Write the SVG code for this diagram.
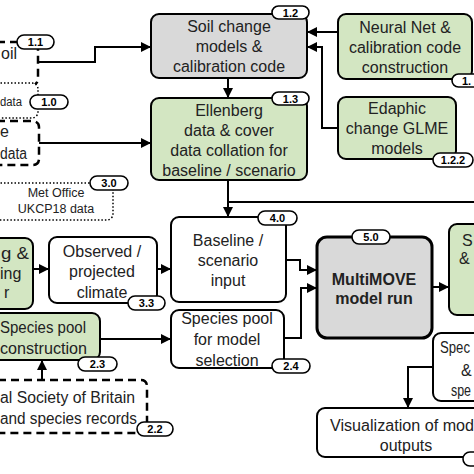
<svg xmlns="http://www.w3.org/2000/svg" width="474" height="474" viewBox="0 0 474 474">
<defs>
<style>
.box{stroke:#000;stroke-width:2}
.g{fill:#d3e6c2}
.gr{fill:#d9d9d9}
.w{fill:#fff}
.dash{fill:#fff;stroke:#000;stroke-width:2.5;stroke-dasharray:8 5}
.dot{fill:#fff;stroke:#000;stroke-width:1.5;stroke-dasharray:1.5 2}
text{font-family:"Liberation Sans",Arial,sans-serif;font-size:16px;fill:#222}
.c{text-anchor:middle}
.e{text-anchor:end}
.sm{font-size:12.5px}
.b{font-weight:bold}
.bd rect{fill:#fff;stroke:#000;stroke-width:1.6}
.bd text{font-size:11px;font-weight:bold;text-anchor:middle;fill:#000}
.cn path{fill:none;stroke:#000;stroke-width:2}
</style>
<marker id="ar" viewBox="0 0 10 10" refX="9" refY="5" markerWidth="5" markerHeight="5" orient="auto" markerUnits="strokeWidth"><path d="M0 0L10 5L0 10z" fill="#000"/></marker>
</defs>
<rect width="474" height="474" fill="#fff"/>

<g id="n1_1">
<rect class="dash" x="-100" y="42" width="138" height="43" rx="6"/>
<text x="1" y="59">oil</text>
</g>
<g id="n1_0">
<rect class="dot" x="-100" y="83" width="138" height="35" rx="6"/>
<text x="0" y="106" class="sm" textLength="22" lengthAdjust="spacingAndGlyphs">data</text>
</g>
<g id="n1_lower">
<rect class="dash" x="-100" y="121" width="139" height="44" rx="6"/>
<text x="0" y="137">e</text>
<text x="0" y="159" textLength="27" lengthAdjust="spacingAndGlyphs">data</text>
</g>
<g id="n3_0">
<rect class="dot" x="-100" y="183" width="213" height="37" rx="6"/>
<text class="c sm" x="56" y="197">Met Office</text>
<text class="c sm" x="56" y="213">UKCP18 data</text>
</g>
<g id="n1_2">
<rect class="box gr" x="151" y="14" width="156" height="64" rx="8"/>
<text class="c" x="229" y="32">Soil change</text>
<text class="c" x="229" y="52">models &amp;</text>
<text class="c" x="229" y="72">calibration code</text>
</g>
<g id="n1_3">
<rect class="box g" x="151" y="98" width="156" height="82" rx="8"/>
<text class="c" x="229" y="116">Ellenberg</text>
<text class="c" x="229" y="136">data &amp; cover</text>
<text class="c" x="229" y="156">data collation for</text>
<text class="c" x="229" y="176">baseline / scenario</text>
</g>
<g id="n1_2_1">
<rect class="box g" x="338" y="14" width="134" height="65" rx="8"/>
<text class="c" x="405" y="33">Neural Net &amp;</text>
<text class="c" x="405" y="53">calibration code</text>
<text class="c" x="405" y="73">construction</text>
</g>
<g id="n1_2_2">
<rect class="box g" x="338" y="97" width="118" height="62" rx="8"/>
<text class="c" x="397" y="114">Edaphic</text>
<text class="c" x="397" y="134">change GLME</text>
<text class="c" x="397" y="154">models</text>
</g>
<g id="n4_0">
<rect class="box w" x="171" y="217" width="115" height="85" rx="8"/>
<text class="c" x="228" y="246">Baseline /</text>
<text class="c" x="228" y="266">scenario</text>
<text class="c" x="228" y="286">input</text>
</g>
<g id="n3_3">
<rect class="box w" x="49" y="237" width="108" height="66" rx="8"/>
<text class="c" x="102" y="257">Observed /</text>
<text class="c" x="102" y="277">projected</text>
<text class="c" x="102" y="298">climate</text>
</g>
<g id="n3_left">
<rect class="box g" x="-60" y="238" width="93" height="71" rx="8"/>
<text x="1" y="259" textLength="28" lengthAdjust="spacingAndGlyphs">g &amp;</text>
<text x="0" y="279">ing</text>
<text x="4" y="298">r</text>
</g>
<g id="n2_3">
<rect class="box g" x="-60" y="313" width="160" height="47" rx="8"/>
<text x="0" y="333" textLength="86" lengthAdjust="spacingAndGlyphs">Species pool</text>
<text x="0" y="354" textLength="87" lengthAdjust="spacingAndGlyphs">construction</text>
</g>
<g id="n2_2">
<rect class="dash" x="-60" y="380" width="207" height="53" rx="6"/>
<text x="0" y="403" textLength="135" lengthAdjust="spacingAndGlyphs">al Society of Britain</text>
<text x="0" y="424" textLength="137" lengthAdjust="spacingAndGlyphs">and species records</text>
</g>
<g id="n2_4">
<rect class="box w" x="171" y="310" width="113" height="58" rx="8"/>
<text class="c" x="227" y="324">Species pool</text>
<text class="c" x="227" y="345">for model</text>
<text class="c" x="227" y="366">selection</text>
</g>
<g id="n5_0">
<rect x="317" y="237" width="115" height="101" rx="10" fill="#d9d9d9" stroke="#000" stroke-width="3"/>
<text class="c b" x="374" y="285">MultiMOVE</text>
<text class="c b" x="374" y="304">model run</text>
</g>
<g id="n_right">
<rect class="box g" x="449" y="224" width="60" height="91" rx="8"/>
<text x="462" y="246">S</text>
<text x="459" y="264">&amp;</text>
</g>
<g id="n_spec">
<rect class="box w" x="433" y="333" width="60" height="68" rx="8"/>
<text x="440" y="353" textLength="30" lengthAdjust="spacingAndGlyphs">Spec</text>
<text x="461" y="376">&amp;</text>
<text x="451" y="396" textLength="20" lengthAdjust="spacingAndGlyphs">spe</text>
</g>
<g id="n_vis">
<rect class="box w" x="317" y="408" width="200" height="49" rx="8"/>
<text x="330" y="431" textLength="144" lengthAdjust="spacingAndGlyphs">Visualization of mod</text>
<text class="c" x="406" y="451">outputs</text>
</g>

<g id="connectors" class="cn">
<path d="M38 62H95V47H150" marker-end="url(#ar)"/>
<path d="M39 143H150" marker-end="url(#ar)"/>
<path d="M228 78V97" marker-end="url(#ar)"/>
<path d="M338 32H308" marker-end="url(#ar)"/>
<path d="M338 128H322V47H308" marker-end="url(#ar)"/>
<path d="M228 180V216" marker-end="url(#ar)"/>
<path d="M228 202H474"/>
<path d="M33 269H48" marker-end="url(#ar)"/>
<path d="M157 269H170" marker-end="url(#ar)"/>
<path d="M286 260H300V270H316" marker-end="url(#ar)"/>
<path d="M284 338H301V288H316" marker-end="url(#ar)"/>
<path d="M100 339H170" marker-end="url(#ar)"/>
<path d="M42 380V361" marker-end="url(#ar)"/>
<path d="M432 287H448" marker-end="url(#ar)"/>
<path d="M433 367H408V407" marker-end="url(#ar)"/>
</g>

<g class="bd">
<g id="b1_1"><rect x="17" y="35" width="37" height="14" rx="7"/><text x="35.5" y="46">1.1</text></g>
<g id="b1_0"><rect x="30" y="95" width="38" height="14" rx="7"/><text x="49" y="106">1.0</text></g>
<g id="b3_0"><rect x="90" y="176" width="38" height="14" rx="7"/><text x="109" y="187">3.0</text></g>
<g id="b1_2"><rect x="272" y="6" width="37" height="13" rx="6.5"/><text x="290.5" y="16.5">1.2</text></g>
<g id="b1_3"><rect x="272" y="92" width="37" height="13" rx="6.5"/><text x="290.5" y="102.5">1.3</text></g>
<g id="b1_2_1"><rect x="452" y="74" width="40" height="13" rx="6.5"/><text x="462" y="84.5" style="text-anchor:start">1.</text></g>
<g id="b1_2_2"><rect x="433" y="153" width="40" height="14" rx="7"/><text x="453" y="164">1.2.2</text></g>
<g id="b4_0"><rect x="258" y="211" width="39" height="14" rx="7"/><text x="277.5" y="222">4.0</text></g>
<g id="b3_3"><rect x="128" y="296" width="37" height="14" rx="7"/><text x="146.5" y="307">3.3</text></g>
<g id="b2_3"><rect x="78" y="357" width="39" height="14" rx="7"/><text x="97.5" y="368">2.3</text></g>
<g id="b2_2"><rect x="137" y="422" width="36" height="14" rx="7"/><text x="155" y="433">2.2</text></g>
<g id="b2_4"><rect x="272" y="359" width="38" height="14" rx="7"/><text x="291" y="370">2.4</text></g>
<g id="b5_0"><rect x="352" y="230" width="38" height="14" rx="7"/><text x="371" y="241">5.0</text></g>
<g id="b_vis"><rect x="463" y="452" width="38" height="14" rx="7"/></g>
</g>
</svg>
